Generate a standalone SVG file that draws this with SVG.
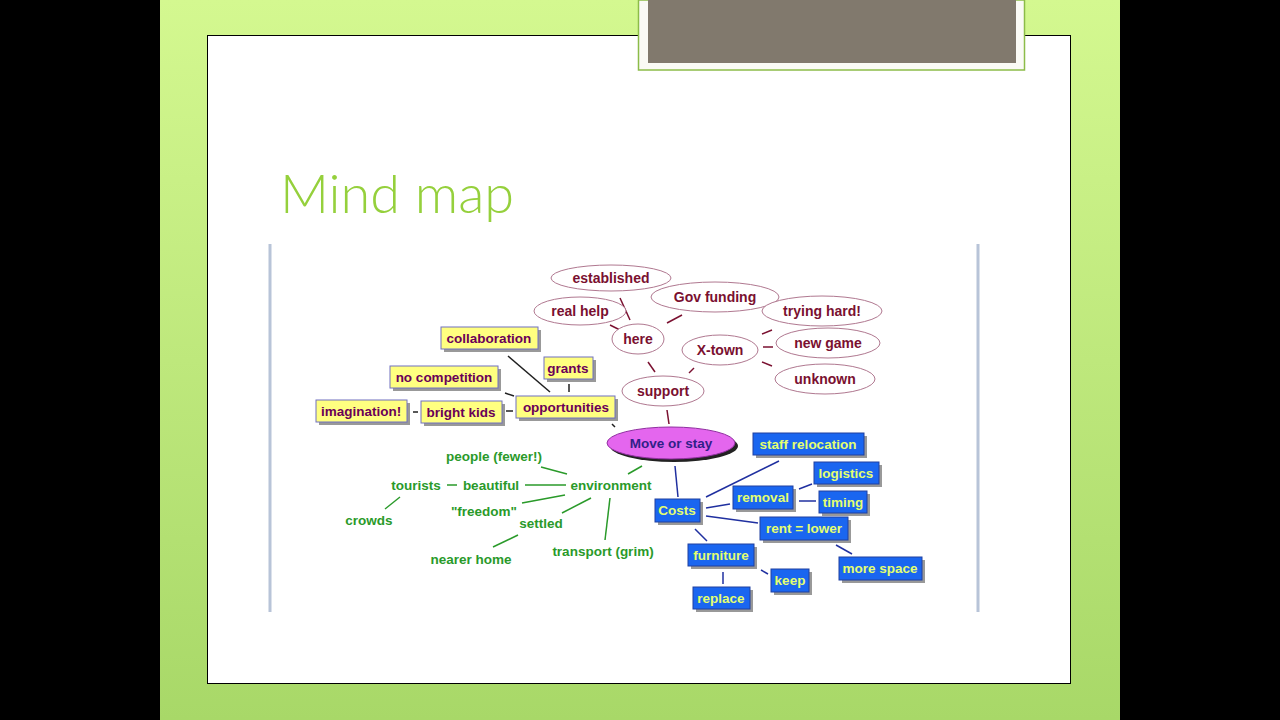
<svg xmlns="http://www.w3.org/2000/svg" width="1280" height="720" viewBox="0 0 1280 720">
<defs>
<linearGradient id="bg" x1="0" y1="0" x2="0" y2="1"><stop offset="0" stop-color="#d4f890"/><stop offset="1" stop-color="#a8d868"/></linearGradient>
<style>
.el{fill:#fff;stroke:#b07890;stroke-width:1}
.et{font:bold 14px "Liberation Sans",Arial,sans-serif;fill:#7a1030;text-anchor:middle}
.yb{fill:#ffff80;stroke:#7070c0;stroke-width:1}
.yt{font:bold 13.5px "Liberation Sans",Arial,sans-serif;fill:#6a0058;text-anchor:middle}
.bb{fill:#1a66f0;stroke:#2040a0;stroke-width:1}
.bt{font:bold 13.5px "Liberation Sans",Arial,sans-serif;fill:#e4ff70;text-anchor:middle}
.sh{fill:#555;opacity:.6}
.gt{font:bold 13.5px "Liberation Sans",Arial,sans-serif;fill:#2a9a2a;text-anchor:middle}
.cm{stroke:#7a1030;stroke-width:1.5}
.ck{stroke:#202020;stroke-width:1.5}
.cg{stroke:#2a9a2a;stroke-width:1.5}
.cb{stroke:#2030a0;stroke-width:1.5}
</style>
</defs>
<rect width="1280" height="720" fill="#000"/>
<rect x="160" y="0" width="960" height="720" fill="url(#bg)"/>
<rect x="207.5" y="35.5" width="863" height="648" fill="#fff" stroke="#000"/>
<rect x="638.5" y="0" width="386" height="70" fill="#fafaf5" stroke="#8cbc48" stroke-width="1.5"/>
<rect x="648" y="0" width="368" height="63" fill="#81796d"/>
<text x="280" y="213" font-family="Lato,'Open Sans',sans-serif" font-weight="300" font-size="54" fill="#95d03c">Mind map</text>
<line x1="270" y1="244" x2="270" y2="612" stroke="#b8c4d8" stroke-width="3"/>
<line x1="978" y1="244" x2="978" y2="612" stroke="#b8c4d8" stroke-width="3"/>
<g id="connectors">
<line class="cm" x1="620" y1="298" x2="630" y2="320"/>
<line class="cm" x1="610" y1="325" x2="620" y2="330"/>
<line class="cm" x1="667" y1="323" x2="682" y2="315"/>
<line class="cm" x1="648" y1="362" x2="655" y2="372"/>
<line class="cm" x1="689" y1="373" x2="694" y2="368"/>
<line class="cm" x1="762" y1="334" x2="772" y2="330"/>
<line class="cm" x1="763" y1="347" x2="773" y2="347"/>
<line class="cm" x1="762" y1="362" x2="772" y2="366"/>
<line class="cm" x1="667" y1="410" x2="669" y2="424"/>
<line class="ck" x1="508" y1="356" x2="550" y2="392"/>
<line class="ck" x1="569" y1="384" x2="569" y2="392"/>
<line class="ck" x1="505" y1="393" x2="514" y2="396"/>
<line class="ck" x1="506" y1="411" x2="513" y2="411"/>
<line class="ck" x1="413" y1="412" x2="418" y2="412"/>
<line class="ck" x1="612" y1="424" x2="615" y2="427"/>
<line class="cg" x1="628" y1="474" x2="642" y2="466"/>
<line class="cg" x1="541" y1="467" x2="567" y2="474"/>
<line class="cg" x1="447" y1="485" x2="457" y2="485"/>
<line class="cg" x1="525" y1="485" x2="566" y2="485"/>
<line class="cg" x1="522" y1="503" x2="565" y2="495"/>
<line class="cg" x1="562" y1="513" x2="591" y2="498"/>
<line class="cg" x1="605" y1="540" x2="610" y2="498"/>
<line class="cg" x1="385" y1="509" x2="400" y2="497"/>
<line class="cg" x1="493" y1="547" x2="518" y2="535"/>
<line class="cb" x1="675" y1="466" x2="678" y2="497"/>
<line class="cb" x1="706" y1="497" x2="779" y2="461"/>
<line class="cb" x1="706" y1="508" x2="730" y2="504"/>
<line class="cb" x1="706" y1="516" x2="758" y2="523"/>
<line class="cb" x1="695" y1="529" x2="707" y2="541"/>
<line class="cb" x1="799" y1="489" x2="812" y2="484"/>
<line class="cb" x1="799" y1="501" x2="816" y2="501"/>
<line class="cb" x1="836" y1="545" x2="852" y2="554"/>
<line class="cb" x1="761" y1="570" x2="768" y2="574"/>
<line class="cb" x1="723" y1="572" x2="723" y2="584"/>
</g>
<g id="established"><ellipse class="el" cx="611" cy="278" rx="60" ry="13"/><text class="et" x="611" y="283">established</text></g>
<g id="gov"><ellipse class="el" cx="715" cy="297" rx="64" ry="15"/><text class="et" x="715" y="302">Gov funding</text></g>
<g id="realhelp"><ellipse class="el" cx="580" cy="311" rx="46" ry="14"/><text class="et" x="580" y="316">real help</text></g>
<g id="trying"><ellipse class="el" cx="822" cy="311" rx="60" ry="15"/><text class="et" x="822" y="316">trying hard!</text></g>
<g id="here"><ellipse class="el" cx="638" cy="339" rx="26" ry="15"/><text class="et" x="638" y="344">here</text></g>
<g id="xtown"><ellipse class="el" cx="720" cy="350" rx="38" ry="15"/><text class="et" x="720" y="355">X-town</text></g>
<g id="newgame"><ellipse class="el" cx="828" cy="343" rx="52" ry="15"/><text class="et" x="828" y="348">new game</text></g>
<g id="unknown"><ellipse class="el" cx="825" cy="379" rx="50" ry="15"/><text class="et" x="825" y="384">unknown</text></g>
<g id="support"><ellipse class="el" cx="663" cy="391" rx="41" ry="15"/><text class="et" x="663" y="396">support</text></g>
<g id="move"><ellipse cx="674" cy="446" rx="64" ry="16" fill="#222"/><ellipse cx="671" cy="443" rx="64" ry="16" fill="#e466ee" stroke="#9030a0"/><text x="671" y="448" text-anchor="middle" font-family="Liberation Sans,Arial,sans-serif" font-weight="bold" font-size="13.5" fill="#302088">Move or stay</text></g>
<g id="collaboration"><rect class="sh" x="444" y="330" width="97" height="22"/><rect class="yb" x="441" y="327" width="97" height="22"/><text class="yt" x="489" y="343">collaboration</text></g>
<g id="grants"><rect class="sh" x="547" y="360" width="49" height="22"/><rect class="yb" x="544" y="357" width="49" height="22"/><text class="yt" x="568" y="373">grants</text></g>
<g id="nocomp"><rect class="sh" x="393" y="369" width="108" height="22"/><rect class="yb" x="390" y="366" width="108" height="22"/><text class="yt" x="444" y="382">no competition</text></g>
<g id="imagination"><rect class="sh" x="319" y="403" width="91" height="22"/><rect class="yb" x="316" y="400" width="91" height="22"/><text class="yt" x="361" y="416">imagination!</text></g>
<g id="brightkids"><rect class="sh" x="424" y="404" width="81" height="22"/><rect class="yb" x="421" y="401" width="81" height="22"/><text class="yt" x="461" y="417">bright kids</text></g>
<g id="opportunities"><rect class="sh" x="519" y="399" width="99" height="22"/><rect class="yb" x="516" y="396" width="99" height="22"/><text class="yt" x="566" y="412">opportunities</text></g>
<g id="staff"><rect class="sh" x="756" y="436" width="111" height="22"/><rect class="bb" x="753" y="433" width="111" height="22"/><text class="bt" x="808" y="449">staff relocation</text></g>
<g id="logistics"><rect class="sh" x="817" y="465" width="65" height="22"/><rect class="bb" x="814" y="462" width="65" height="22"/><text class="bt" x="846" y="478">logistics</text></g>
<g id="removal"><rect class="sh" x="736" y="489" width="60" height="23"/><rect class="bb" x="733" y="486" width="60" height="23"/><text class="bt" x="763" y="502">removal</text></g>
<g id="timing"><rect class="sh" x="822" y="494" width="48" height="22"/><rect class="bb" x="819" y="491" width="48" height="22"/><text class="bt" x="843" y="507">timing</text></g>
<g id="costs"><rect class="sh" x="658" y="502" width="45" height="23"/><rect class="bb" x="655" y="499" width="45" height="23"/><text class="bt" x="677" y="515">Costs</text></g>
<g id="rent"><rect class="sh" x="763" y="520" width="88" height="23"/><rect class="bb" x="760" y="517" width="88" height="23"/><text class="bt" x="804" y="533">rent = lower</text></g>
<g id="furniture"><rect class="sh" x="691" y="547" width="66" height="22"/><rect class="bb" x="688" y="544" width="66" height="22"/><text class="bt" x="721" y="560">furniture</text></g>
<g id="morespace"><rect class="sh" x="842" y="560" width="83" height="23"/><rect class="bb" x="839" y="557" width="83" height="23"/><text class="bt" x="880" y="573">more space</text></g>
<g id="keep"><rect class="sh" x="774" y="572" width="38" height="23"/><rect class="bb" x="771" y="569" width="38" height="23"/><text class="bt" x="790" y="585">keep</text></g>
<g id="replace"><rect class="sh" x="696" y="590" width="57" height="22"/><rect class="bb" x="693" y="587" width="57" height="22"/><text class="bt" x="721" y="603">replace</text></g>
<g id="green">
<text class="gt" x="494" y="461">people (fewer!)</text>
<text class="gt" x="416" y="490">tourists</text>
<text class="gt" x="491" y="490">beautiful</text>
<text class="gt" x="611" y="490">environment</text>
<text class="gt" x="484" y="516">"freedom"</text>
<text class="gt" x="541" y="528">settled</text>
<text class="gt" x="369" y="525">crowds</text>
<text class="gt" x="603" y="556">transport (grim)</text>
<text class="gt" x="471" y="564">nearer home</text>
</g>
</svg>
